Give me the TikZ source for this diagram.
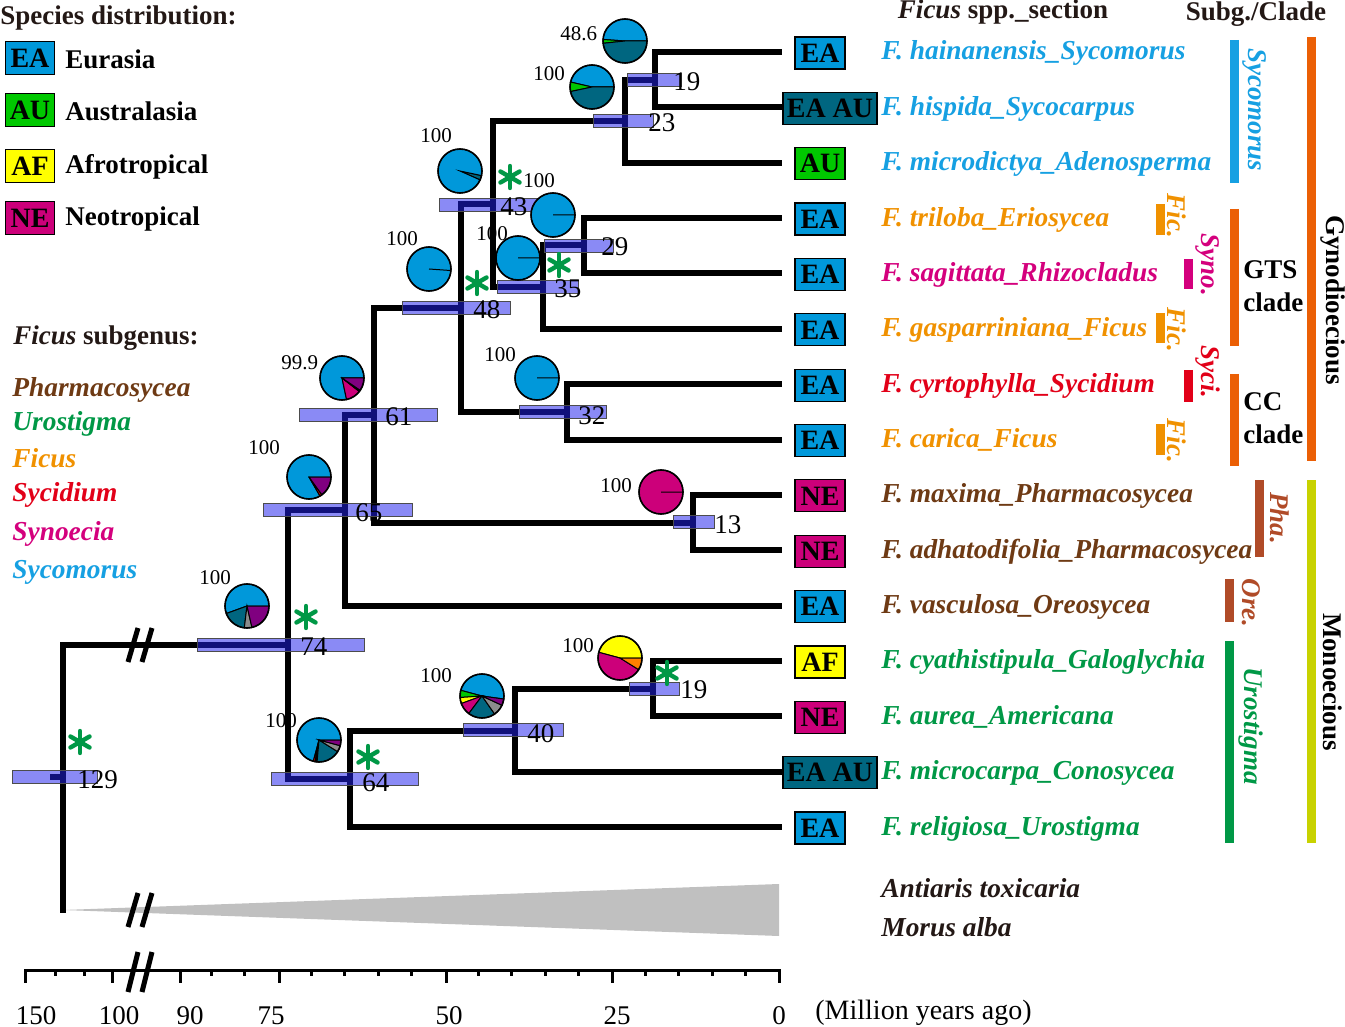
\documentclass[tikz,border=0pt]{standalone}
\usepackage{fontspec}
\setmainfont{Liberation Serif}

\definecolor{regEA}{RGB}{0,152,218}
\definecolor{regAU}{RGB}{0,200,0}
\definecolor{regAF}{RGB}{255,255,0}
\definecolor{regNE}{RGB}{204,0,122}
\definecolor{regEAAU}{RGB}{0,102,128}
\definecolor{pPurple}{RGB}{128,0,128}
\definecolor{pGray}{RGB}{140,140,140}
\definecolor{pOrange}{RGB}{255,128,0}
\definecolor{pRed}{RGB}{220,0,0}
\definecolor{hpdBlue}{RGB}{31,31,235}
\definecolor{txSyco}{RGB}{22,160,226}
\definecolor{txFicus}{RGB}{240,145,0}
\definecolor{txSyno}{RGB}{212,0,125}
\definecolor{txSyci}{RGB}{226,0,24}
\definecolor{txPharma}{RGB}{110,58,20}
\definecolor{txUro}{RGB}{0,152,70}
\definecolor{txBlack}{RGB}{35,24,21}
\definecolor{barGyno}{RGB}{235,95,5}
\definecolor{barPha}{RGB}{176,75,40}
\definecolor{barMono}{RGB}{200,210,0}
\definecolor{outGray}{RGB}{192,192,192}

% ancestral range pie: centre, list of start/end/colour
\newcommand{\ancpie}[2]{%
  \foreach \s/\e/\c in {#2}
    \filldraw[fill=\c, draw=black, line width=0.5pt] (#1) -- ++(\s:11pt)
      arc[start angle=\s, end angle=\e, radius=11pt] -- cycle;
  \draw[line width=0.8pt] (#1) circle[radius=11pt];
}

\tikzset{
  sigstar/.pic={\foreach \a in {90,30,-30}
      \draw[line width=2.2pt, line cap=round, txUro] (\a:5.5pt) -- ({\a+180}:5.5pt);}
}

\begin{document}
\begin{tikzpicture}[x=0.5pt, y=-0.5pt,
    branch/.style={line width=3pt, line cap=rect},
    hpd/.style={fill=hpdBlue, fill opacity=0.52, draw=black!70, line width=0.5pt},
    regbox/.style={draw=black, line width=0.6pt, inner sep=0pt, minimum height=16pt,
      font=\fontsize{14}{14}\selectfont\bfseries},
    taxon/.style={anchor=base west, inner sep=0pt, font=\fontsize{13.7}{15}\selectfont\bfseries\itshape},
    heading/.style={inner sep=0pt, font=\fontsize{13.5}{16.5}\selectfont\bfseries, text=txBlack},
    age/.style={anchor=base west, inner sep=0pt, font=\fontsize{13.5}{15}\selectfont},
    supp/.style={anchor=base west, inner sep=0pt, font=\fontsize{10.5}{12}\selectfont},
    cladebar/.style={line width=4.5pt},
    sidelab/.style={rotate=-90, inner sep=0pt, font=\fontsize{13.5}{15}\selectfont\bfseries\itshape},
    axlab/.style={anchor=base, inner sep=0pt, font=\fontsize{13.5}{15}\selectfont}]
  \useasboundingbox (0,0) rectangle (1345,1027);

  % tips, ranges and names
  \foreach \r/\f/\bx/\w/\c/\l [count=\i] in {
      EA/regEA/820/25/txSyco/hainanensis\_Sycomorus,
      EA AU/regEAAU/830/47/txSyco/hispida\_Sycocarpus,
      AU/regAU/820/25/txSyco/microdictya\_Adenosperma,
      EA/regEA/820/25/txFicus/triloba\_Eriosycea,
      EA/regEA/820/25/txSyno/sagittata\_Rhizocladus,
      EA/regEA/820/25/txFicus/gasparriniana\_Ficus,
      EA/regEA/820/25/txSyci/cyrtophylla\_Sycidium,
      EA/regEA/820/25/txFicus/carica\_Ficus,
      NE/regNE/820/25/txPharma/maxima\_Pharmacosycea,
      NE/regNE/820/25/txPharma/adhatodifolia\_Pharmacosycea,
      EA/regEA/820/25/txPharma/vasculosa\_Oreosycea,
      AF/regAF/820/25/txUro/cyathistipula\_Galoglychia,
      NE/regNE/820/25/txUro/aurea\_Americana,
      EA AU/regEAAU/830/47/txUro/microcarpa\_Conosycea,
      EA/regEA/820/25/txUro/religiosa\_Urostigma}
  {
    \coordinate (tip-\i) at (779,{52+55.36*(\i-1)});
    \node[regbox, fill=\f, minimum width=\w pt] (reg-\i) at (\bx,{53+55.36*(\i-1)}) {\r};
    \node[taxon, text=\c] (lab-\i) at (881,{60+55.36*(\i-1)}) {F. \l};
  }

  \coordinate (n19a) at (655,80);
  \coordinate (n23) at (625,121);
  \coordinate (n29) at (584,245.5);
  \coordinate (n35) at (543,287);
  \coordinate (n43) at (493,204);
  \coordinate (n32) at (567,412);
  \coordinate (n48) at (461,308);
  \coordinate (n13) at (693,522.5);
  \coordinate (n61) at (374,415);
  \coordinate (n65) at (345,510);
  \coordinate (n19b) at (653,689);
  \coordinate (n40) at (515,730.5);
  \coordinate (n64) at (350,779);
  \coordinate (n74) at (288,644.5);
  \coordinate (root) at (63,777);
  \coordinate (rootstub) at (53,777);
  \coordinate (outg) at (63,910);

  % outgroup wedge
  \fill[outGray] (outg) -- (779,884) -- (779,936) -- cycle;

  \foreach \p/\c in {n19a/tip-1, n19a/tip-2, n23/n19a, n23/tip-3,
      n29/tip-4, n29/tip-5, n35/n29, n35/tip-6, n43/n23, n43/n35,
      n32/tip-7, n32/tip-8, n48/n43, n48/n32, n13/tip-9, n13/tip-10,
      n61/n48, n61/n13, n65/n61, n65/tip-11, n19b/tip-12, n19b/tip-13,
      n40/n19b, n40/tip-14, n64/n40, n64/tip-15, n74/n65, n74/n64,
      root/n74, root/outg}
    \draw[branch] (\p) |- (\c);
  \draw[branch] (root) -- (rootstub);

  % 95% HPD bars
  \foreach \a/\b/\y in {627/681/80, 593/653/121, 439/537/205, 544/613/246,
      497/578/287, 402/510/308, 519/606/412, 299/437/415, 673/714/522,
      263/412/510, 629/679/689, 463/563/730, 271/418/779, 197/364/645, 12/97/777}
    \draw[hpd] (\a,\y-6.5) rectangle (\b,\y+6.5);

  % axis breaks
  \foreach \y/\h in {645/17, 910/17, 972/20}
    \foreach \d in {0,14}
      \draw[line width=2.5pt] (128+\d,\y+\h) -- (138+\d,\y-\h);

  % node ages
  \foreach \l/\x/\y [count=\i] in {129/77/788, 74/300/655, 65/355/521, 61/385/425,
      48/473/319, 43/500/216, 23/648/132, 19/673/91, 35/554/298, 29/601/256,
      32/578/424, 13/714/533, 64/362/791, 40/527/742, 19/680/698}
    \node[age] (age-\i) at (\x,\y) {\l};

  % support values
  \foreach \l/\x/\y [count=\i] in {48.6/560/41, 100/533/81, 100/420/143, 100/523/188,
      100/476/241, 100/386/246, 99.9/281/370, 100/484/362, 100/248/454,
      100/600/492, 100/199/584, 100/265/727, 100/420/682, 100/562/652}
    \node[supp] (bs-\i) at (\x,\y) {\l};

  % ancestral ranges
  \coordinate (pie-19a) at (625,41);
  \coordinate (pie-23) at (592,87);
  \coordinate (pie-43) at (460,171);
  \coordinate (pie-29) at (553,215);
  \coordinate (pie-35) at (518,258);
  \coordinate (pie-48) at (429,269);
  \coordinate (pie-61) at (342,378);
  \coordinate (pie-32) at (537,378);
  \coordinate (pie-65) at (309,477);
  \coordinate (pie-13) at (661,492);
  \coordinate (pie-74) at (247,606);
  \coordinate (pie-64) at (319,740);
  \coordinate (pie-40) at (482,696);
  \coordinate (pie-19b) at (620,658);
  \ancpie{pie-19a}{0/176/regEA, 176/186/regAU, 186/360/regEAAU}
  \ancpie{pie-23}{0/167/regEA, 167/192/regAU, 192/360/regEAAU}
  \ancpie{pie-43}{-24/-12/regEAAU, -12/336/regEA}
  \ancpie{pie-29}{0/360/regEA}
  \ancpie{pie-35}{0/360/regEA}
  \ancpie{pie-48}{-4/356/regEA}
  \ancpie{pie-61}{0/282/regEA, 282/322/regNE, 322/326/black, 326/360/pPurple}
  \ancpie{pie-32}{0/360/regEA}
  \ancpie{pie-65}{0/300/regEA, 300/306/pRed, 306/360/pPurple}
  \ancpie{pie-13}{0/360/regNE}
  \ancpie{pie-74}{0/200/regEA, 200/263/regEAAU, 263/283/pGray, 283/360/pPurple}
  \ancpie{pie-64}{0/255/regEA, 255/260/pRed, 260/265/black, 265/328/regEAAU,
    328/345/pGray, 345/360/pPurple}
  \ancpie{pie-40}{-8/165/regEA, 165/184/regAU, 184/200/regAF, 200/233/regNE,
    233/305/regEAAU, 305/335/pGray, 335/352/pPurple}
  \ancpie{pie-19b}{0/165/regAF, 165/328/regNE, 328/360/pOrange}

  % significant shifts
  \foreach \x/\y [count=\i] in {510/177, 477/283, 559/265, 306/617, 368/757, 667/673, 80/742}
    \pic (star-\i) at (\x,\y) {sigstar};

  % time axis
  \draw[line width=1.5pt] (25,970) coordinate (ax-l) -- (779,970) coordinate (ax-r);
  \foreach \x in {25,112,180,279,446,612,779}
    \draw[line width=1.5pt] (\x,969) -- (\x,983);
  \foreach \t in {5,10,15,20,30,35,40,45,55,60,65,70,80,85}
    \draw[line width=1.5pt] ({779-6.68*\t},969) -- ({779-6.68*\t},976);
  \foreach \x in {55,84}
    \draw[line width=1.5pt] (\x,969) -- (\x,976);
  \foreach \t/\x in {150/36, 100/119, 90/190, 75/271, 50/449, 25/617, 0/779}
    \node[axlab] (axl-\t) at (\x,1024) {\t};
  \node[anchor=base west, inner sep=0pt, font=\fontsize{14}{15}\selectfont] (axtitle) at (815,1019) {(Million years ago)};

  % outgroups
  \node[taxon, text=txBlack] (og-1) at (881,897) {Antiaris toxicaria};
  \node[taxon, text=txBlack] (og-2) at (881,936) {Morus alba};

  % headings
  \node[heading, anchor=base] (hd-tax) at (1003,19) {\textit{Ficus} spp.\_section};
  \node[heading, anchor=base] (hd-subg) at (1256,21) {Subg./Clade};

  % distribution legend
  \node[heading, anchor=base west] (hd-dist) at (0,25) {Species distribution:};
  \foreach \r/\f/\y/\t [count=\i] in {EA/regEA/58/Eurasia, AU/regAU/110/Australasia,
      AF/regAF/166/Afrotropical, NE/regNE/218/Neotropical}
  {
    \node[regbox, fill=\f, minimum width=24.5pt, minimum height=16.5pt] (leg-\i) at (30,\y) {\r};
    \node[heading, anchor=west, text=black] (legt-\i) at (65,\y+1) {\t};
  }

  % subgenus legend
  \node[heading, anchor=base west] (hd-subgen) at (13,345) {\textit{Ficus} subgenus:};
  \foreach \t/\c/\y [count=\i] in {Pharmacosycea/txPharma/397, Urostigma/txUro/430,
      Ficus/txFicus/467, Sycidium/txSyci/502, Synoecia/txSyno/540, Sycomorus/txSyco/578}
    \node[taxon, text=\c] (sg-\i) at (12,\y) {\t};

  % subgenus / clade bars
  \draw[cladebar, txSyco] (1234.5,40) -- (1234.5,183);
  \draw[cladebar, barGyno] (1311.5,37) -- (1311.5,461);
  \draw[cladebar, barGyno] (1234.5,209) -- (1234.5,346);
  \draw[cladebar, barGyno] (1234.5,374) -- (1234.5,466);
  \foreach \a/\b in {204/235, 313/343, 424/455}
    \draw[cladebar, txFicus] (1160,\a) -- (1160,\b);
  \draw[cladebar, txSyno] (1188.5,259) -- (1188.5,289);
  \draw[cladebar, txSyci] (1188.5,370) -- (1188.5,402);
  \draw[cladebar, barPha] (1259.5,480) -- (1259.5,557);
  \draw[cladebar, barPha] (1229.5,579) -- (1229.5,622);
  \draw[cladebar, txUro] (1229.5,641) -- (1229.5,843);
  \draw[cladebar, barMono] (1311.5,480) -- (1311.5,843);

  \node[sidelab, text=txSyco] (sl-syco) at (1255,110) {Sycomorus};
  \foreach \y [count=\i] in {216,330,441}
    \node[sidelab, text=txFicus] (sl-fic-\i) at (1177,\y) {Fic.};
  \node[sidelab, text=txSyno] (sl-syno) at (1208,265) {Syno.};
  \node[sidelab, text=txSyci] (sl-syci) at (1208,372) {Syci.};
  \node[sidelab, text=barPha] (sl-pha) at (1280,518) {Pha.};
  \node[sidelab, text=barPha] (sl-ore) at (1251,603) {Ore.};
  \node[sidelab, text=txUro] (sl-uro) at (1251,726) {Urostigma};
  \node[heading, rotate=-90, text=black] (sl-gyno) at (1333,300) {Gynodioecious};
  \node[heading, rotate=-90, text=black] (sl-mono) at (1333,682) {Monoecious};
  \node[heading, align=left, anchor=west, text=black] (cl-gts) at (1243,286) {GTS\\clade};
  \node[heading, align=left, anchor=west, text=black] (cl-cc) at (1243,418) {CC\\clade};
\end{tikzpicture}
\end{document}
